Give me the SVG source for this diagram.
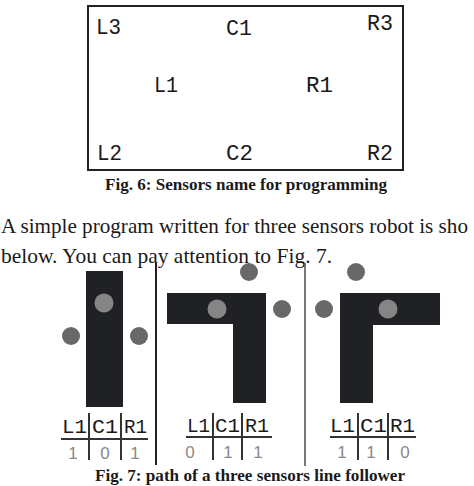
<svg xmlns="http://www.w3.org/2000/svg" width="474" height="486" viewBox="0 0 474 486">
<style>
.lbl{font-family:"Liberation Mono",monospace;font-size:22px;fill:#1a1a1a}
.hdr{font-family:"Liberation Mono",monospace;font-size:21px;fill:#1a1a1a}
.val{font-family:"Liberation Sans",sans-serif;font-size:17px;fill:#8a8a8a;text-anchor:middle}
.cap{font-family:"Liberation Serif",serif;font-weight:bold;font-size:16px;fill:#1a1a1a}
.body{font-family:"Liberation Serif",serif;font-size:21px;fill:#1a1a1a}
.bar{fill:#1f2124}
.dot{fill:#686868}
.dotin{fill:#858585}
.tl{stroke:#333;stroke-width:2;fill:none}
</style>
<rect width="474" height="486" fill="#ffffff"/>
<g id="fig6">
<rect x="88" y="6" width="315" height="164" fill="#fff" stroke="#222" stroke-width="2"/>
<text class="lbl" x="96" y="34" textLength="25" lengthAdjust="spacingAndGlyphs">L3</text>
<text class="lbl" x="226" y="35" textLength="26" lengthAdjust="spacingAndGlyphs">C1</text>
<text class="lbl" x="367" y="30" textLength="26" lengthAdjust="spacingAndGlyphs">R3</text>
<text class="lbl" x="154" y="92" textLength="24" lengthAdjust="spacingAndGlyphs">L1</text>
<text class="lbl" x="306" y="92" textLength="27" lengthAdjust="spacingAndGlyphs">R1</text>
<text class="lbl" x="97" y="160" textLength="25" lengthAdjust="spacingAndGlyphs">L2</text>
<text class="lbl" x="226" y="160" textLength="27" lengthAdjust="spacingAndGlyphs">C2</text>
<text class="lbl" x="367" y="160" textLength="26" lengthAdjust="spacingAndGlyphs">R2</text>
</g>
<text class="cap" x="105" y="190" textLength="282" lengthAdjust="spacingAndGlyphs">Fig. 6: Sensors name for programming</text>
<text class="body" x="1" y="233" textLength="467" lengthAdjust="spacingAndGlyphs">A simple program written for three sensors robot is sho</text>
<text class="body" x="1" y="263" textLength="331" lengthAdjust="spacingAndGlyphs">below. You can pay attention to Fig. 7.</text>
<g id="connectors">
<line x1="156" y1="262" x2="156" y2="465" stroke="#222" stroke-width="2"/>
<line x1="305" y1="263" x2="305" y2="466" stroke="#555" stroke-width="1.6"/>
</g>
<g id="panel1">
<rect class="bar" x="86" y="271" width="37" height="136"/>
<circle class="dotin" cx="104" cy="303" r="9.5"/>
<circle class="dot" cx="71" cy="336" r="9"/>
<circle class="dot" cx="139" cy="336" r="9"/>
<text class="hdr" x="62" y="433" textLength="25" lengthAdjust="spacingAndGlyphs">L1</text>
<text class="hdr" x="92" y="433" textLength="26" lengthAdjust="spacingAndGlyphs">C1</text>
<text class="hdr" x="124" y="433" textLength="23" lengthAdjust="spacingAndGlyphs">R1</text>
<line class="tl" x1="61" y1="439" x2="148" y2="439"/>
<line class="tl" x1="89" y1="413" x2="89" y2="460" stroke-width="1.5"/>
<line class="tl" x1="121" y1="413" x2="121" y2="460" stroke-width="1.5"/>
<text class="val" x="73" y="459">1</text>
<text class="val" x="105" y="459">0</text>
<text class="val" x="135" y="459">1</text>
</g>
<g id="panel2">
<rect class="bar" x="167" y="293" width="99" height="31"/>
<rect class="bar" x="233" y="293" width="33" height="110"/>
<circle class="dotin" cx="217" cy="309" r="9.5"/>
<circle class="dot" cx="249" cy="272" r="9"/>
<circle class="dot" cx="282" cy="309" r="9"/>
<text class="hdr" x="187" y="432" textLength="23" lengthAdjust="spacingAndGlyphs">L1</text>
<text class="hdr" x="215" y="432" textLength="25" lengthAdjust="spacingAndGlyphs">C1</text>
<text class="hdr" x="245" y="432" textLength="24" lengthAdjust="spacingAndGlyphs">R1</text>
<line class="tl" x1="186" y1="437" x2="272" y2="437"/>
<line class="tl" x1="213" y1="413" x2="213" y2="460" stroke-width="1.5"/>
<line class="tl" x1="242" y1="413" x2="242" y2="460" stroke-width="1.5"/>
<text class="val" x="190" y="458">0</text>
<text class="val" x="228" y="458">1</text>
<text class="val" x="258" y="458">1</text>
</g>
<g id="panel3">
<rect class="bar" x="340" y="293" width="100" height="32"/>
<rect class="bar" x="340" y="293" width="33" height="110"/>
<circle class="dotin" cx="388" cy="309" r="9.5"/>
<circle class="dot" cx="356" cy="272" r="9"/>
<circle class="dot" cx="324" cy="309" r="9"/>
<text class="hdr" x="330" y="432" textLength="25" lengthAdjust="spacingAndGlyphs">L1</text>
<text class="hdr" x="360" y="432" textLength="27" lengthAdjust="spacingAndGlyphs">C1</text>
<text class="hdr" x="390" y="432" textLength="25" lengthAdjust="spacingAndGlyphs">R1</text>
<line class="tl" x1="330" y1="437" x2="416" y2="437"/>
<line class="tl" x1="358" y1="413" x2="358" y2="460" stroke-width="1.5"/>
<line class="tl" x1="388" y1="413" x2="388" y2="460" stroke-width="1.5"/>
<text class="val" x="342" y="458">1</text>
<text class="val" x="371" y="458">1</text>
<text class="val" x="405" y="458">0</text>
</g>
<text class="cap" x="95" y="481" textLength="310" lengthAdjust="spacingAndGlyphs">Fig. 7: path of a three sensors line follower</text>
</svg>
